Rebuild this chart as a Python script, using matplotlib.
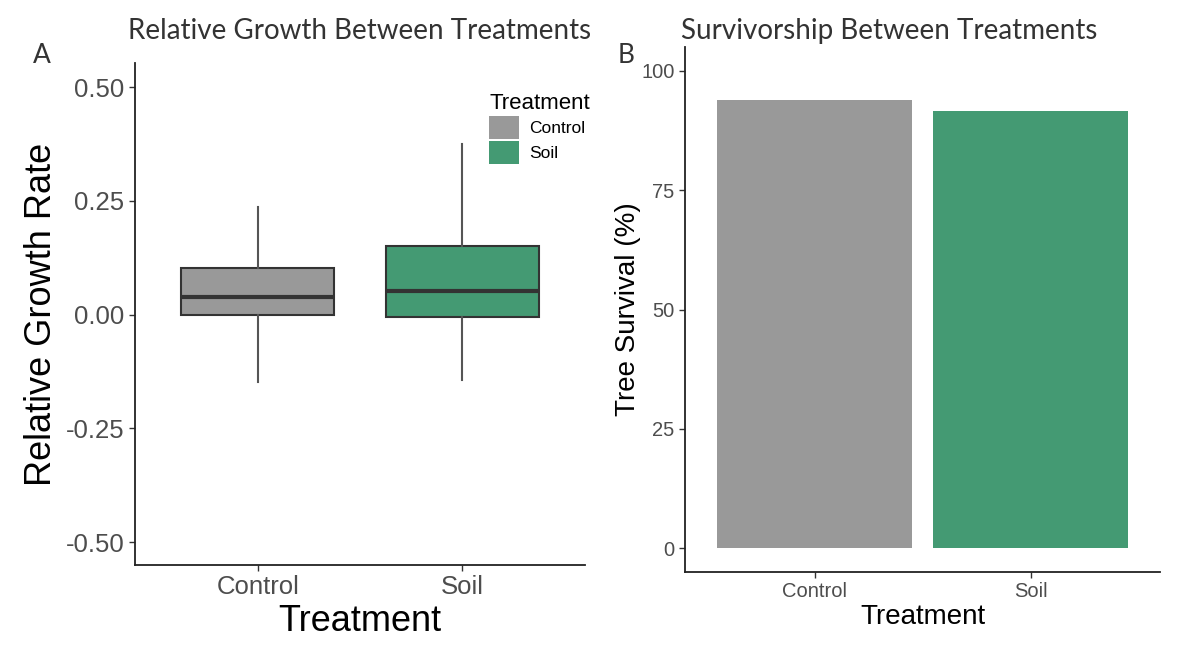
import matplotlib.pyplot as plt
from matplotlib.patches import Patch

# data
treatments = ["Control", "Soil"]
colors = ["#999999", "#449a73"]
growth_lo = [-0.147, -0.143]
growth_q1 = [0.000, -0.004]
growth_med = [0.039, 0.053]
growth_q3 = [0.103, 0.151]
growth_hi = [0.237, 0.375]
survival = [93.9, 91.6]

plt.rcParams['font.family'] = ['Liberation Sans', 'DejaVu Sans']
title_font = ['Lato', 'DejaVu Sans']
tick_col = "#4d4d4d"

fig = plt.figure(figsize=(12, 6.57), dpi=100)
ax1 = fig.add_axes([0.1125, 0.140, 0.375, 0.764])
ax2 = fig.add_axes([0.5708, 0.1294, 0.396, 0.799])

# panel A: boxplot
stats = []
for i, t in enumerate(treatments):
    stats.append(dict(label=t, whislo=growth_lo[i], q1=growth_q1[i], med=growth_med[i],
                      q3=growth_q3[i], whishi=growth_hi[i], fliers=[]))
pos = range(1, len(treatments) + 1)
bp = ax1.bxp(stats, positions=list(pos), widths=0.75, patch_artist=True, showcaps=False,
             boxprops=dict(edgecolor="#333333", linewidth=1.5),
             whiskerprops=dict(color="#555555", linewidth=1.5),
             medianprops=dict(color="#333333", linewidth=3))
for patch, c in zip(bp['boxes'], colors):
    patch.set_facecolor(c)

ax1.set_xlim(0.4, 2.6)
ax1.set_ylim(-0.55, 0.553)
ax1.set_yticks([-0.5, -0.25, 0, 0.25, 0.5])
ax1.set_yticklabels(["-0.50", "-0.25", "0.00", "0.25", "0.50"])
ax1.set_xticks(list(pos))
ax1.set_xticklabels(treatments)
ax1.tick_params(axis='both', labelsize=18.5, colors="#333333", labelcolor=tick_col, length=4, width=1)
ax1.set_xlabel("Treatment", fontsize=26, labelpad=3)
ax1.set_ylabel("Relative Growth Rate", fontsize=26, labelpad=5)

# panel B: bars
ax2.bar(list(pos), survival, width=0.9, color=colors)
ax2.set_xlim(0.4, 2.6)
ax2.set_ylim(-5, 105)
ax2.set_yticks([0, 25, 50, 75, 100])
ax2.set_xticks(list(pos))
ax2.set_xticklabels(treatments)
ax2.tick_params(axis='both', labelsize=14.5, colors="#333333", labelcolor=tick_col, length=4, width=1)
ax2.set_xlabel("Treatment", fontsize=20, labelpad=2)
ax2.set_ylabel("Tree Survival (%)", fontsize=20, labelpad=0)

for ax in (ax1, ax2):
    for s in ("top", "right"):
        ax.spines[s].set_visible(False)
    for s in ("left", "bottom"):
        ax.spines[s].set_linewidth(1.3)
        ax.spines[s].set_color("#222222")

# legend
handles = [Patch(facecolor=c, edgecolor="none", label=t) for t, c in zip(treatments, colors)]
leg = fig.legend(handles=handles, title="Treatment", loc="upper left",
                 bbox_to_anchor=(0.4005, 0.872), frameon=False, fontsize=12.5,
                 title_fontsize=16, handlelength=1.7, handleheight=1.7,
                 labelspacing=0.1, handletextpad=0.6, borderpad=0, alignment='left')

# titles and panel letters
fig.text(0.300, 0.953, "Relative Growth Between Treatments", fontsize=20,
         family=title_font, color="#333333", ha="center", va="center")
fig.text(0.741, 0.953, "Survivorship Between Treatments", fontsize=20,
         family=title_font, color="#333333", ha="center", va="center")
fig.text(0.035, 0.915, "A", fontsize=19, family=title_font, color="#333333", ha="center", va="center")
fig.text(0.522, 0.915, "B", fontsize=19, family=title_font, color="#333333", ha="center", va="center")

fig.savefig("out.png", dpi=100)
